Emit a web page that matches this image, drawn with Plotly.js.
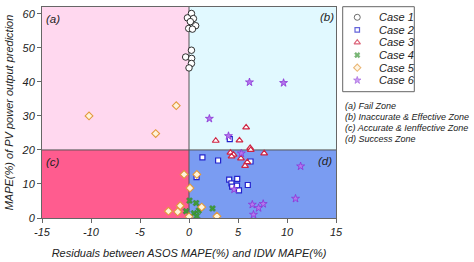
<!DOCTYPE html>
<html>
<head>
<meta charset="utf-8">
<script src="https://cdn.plot.ly/plotly-3.0.1.min.js"></script>
<style>
  html, body { margin: 0; padding: 0; background: #fff; }
  #chart { width: 474px; height: 262px; }
</style>
</head>
<body>
<div id="chart"></div>
<script>
// Residual (ASOS MAPE - IDW MAPE) vs. MAPE of PV power output prediction, per case
const caseNames = ['Case 1', 'Case 2', 'Case 3', 'Case 4', 'Case 5', 'Case 6'];

const case1X = [0.25, -0.16, 0.45, 0.14, 0.68, -0.03, 0.35, 0.25, -0.34, 0.27, 0.25, 0.0];
const case1Y = [60.1, 58.8, 58.6, 57.7, 56.5, 55.7, 55.5, 49.3, 47.3, 46.9, 45.4, 44.1];

const case2X = [1.37, 2.97, 4.16, 6.28, 0.77, 4.1, 4.92, 4.33, 4.4, 4.9, 6.0, 5.1];
const case2Y = [17.8, 16.9, 23.2, 16.6, 12.0, 11.3, 11.5, 10.2, 9.2, 9.5, 9.7, 8.1];

const case3X = [5.83, 2.73, 5.15, 6.24, 6.3, 4.23, 4.55, 4.35, 5.3, 5.95, 5.72, 7.67];
const case3Y = [26.6, 22.7, 22.8, 20.6, 20.0, 19.2, 18.6, 18.1, 17.5, 16.4, 15.3, 19.0];

const case4X = [0.05, 0.72, -0.3, 0.5, 1.0, 2.4, 0.0, 0.8, 1.2];
const case4Y = [5.1, 4.4, 2.0, 1.4, 2.2, 2.8, 0.2, 0.6, 3.0];

const case5X = [-10.2, -1.3, -3.4, -0.5, 0.8, 0.1, -0.9, -2.1, -1.15, 1.3, 0.0, 2.85];
const case5Y = [30.0, 33.0, 24.8, 12.8, 12.8, 8.8, 3.6, 2.0, 1.8, 3.2, 0.4, 0.5];

const case6X = [6.17, 9.65, 2.08, 4.03, 5.34, 11.39, 10.87, 6.46, 7.57, 7.1, 6.58, 4.6];
const case6Y = [39.9, 39.7, 29.2, 24.1, 19.0, 15.2, 5.7, 3.95, 4.15, 2.95, 1.0, 8.4];

const xTicks = [-15, -10, -5, 0, 5, 10, 15];
const yTicks = [0, 10, 20, 30, 40, 50, 60];

// Zone boundaries and labels
const splitX = 0;
const splitY = 20;
const zoneTags = ['(a)', '(b)', '(c)', '(d)'];
const zoneNotes = ['(a) Fail Zone', '(b) Inaccurate & Effective Zone',
                   '(c) Accurate & Ienffective Zone', '(d) Success Zone'];

const seriesX = [case1X, case2X, case3X, case4X, case5X, case6X];
const seriesY = [case1Y, case2Y, case3Y, case4Y, case5Y, case6Y];

// Marker styles per case
const styles = [
  { symbol: 'circle',      size: 6.5, color: '#ffffff', line: '#1a1a1a', lw: 0.9 },
  { symbol: 'square',      size: 5,   color: '#ffffff', line: '#2323cc', lw: 1.2 },
  { symbol: 'triangle-up', size: 6,   color: '#ffffff', line: '#cf2342', lw: 1.2 },
  { symbol: 'x',           size: 5.5, color: '#3f9b3a', line: '#2d7a2a', lw: 0.4 },
  { symbol: 'diamond',     size: 6,   color: '#fff3da', line: '#e2993d', lw: 1.1 },
  { symbol: 'star',        size: 6,   color: '#b676ee', line: '#8a35d6', lw: 0.8 }
];

const FONT = 'Liberation Sans, Arial, sans-serif';
const W = 474, H = 262;
const M = { l: 42, r: 4, t: 7, b: 44 };
const plotW = W - M.l - M.r, plotH = H - M.t - M.b;
const mainRight = 294;                       // main panel width in px
const px2paperX = px => (px - M.l) / plotW;
const px2paperY = py => (H - M.b - py) / plotH;

const traces = seriesX.map((xs, i) => ({
  type: 'scatter', mode: 'markers', name: caseNames[i],
  x: xs, y: seriesY[i], xaxis: 'x', yaxis: 'y',
  marker: { symbol: styles[i].symbol, size: styles[i].size, color: styles[i].color,
            line: { color: styles[i].line, width: styles[i].lw } },
  showlegend: false, hoverinfo: 'x+y'
}));

// Legend glyphs on a small hidden subplot, one row per case
const rows = caseNames.map((_, i) => i);
traces.push({
  type: 'scatter', mode: 'markers', xaxis: 'x2', yaxis: 'y2',
  x: rows.map(() => 0.122), y: rows,
  marker: { symbol: styles.map(s => s.symbol), size: styles.map(s => s.size - 0.5),
            color: styles.map(s => s.color),
            line: { color: styles.map(s => s.line), width: styles.map(s => s.lw) } },
  showlegend: false, hoverinfo: 'skip'
});

const quad = (x0, x1, y0, y1, fill) => ({
  type: 'rect', xref: 'x', yref: 'y', x0, x1, y0, y1,
  fillcolor: fill, line: { width: 0 }, layer: 'below'
});

const shapes = [
  quad(-15, splitX, splitY, 62, '#ffd8ef'),
  quad(splitX, 15, splitY, 62, '#e1f9ff'),
  quad(-15, splitX, 0, splitY, '#ff5c8f'),
  quad(splitX, 15, 0, splitY, '#7a9cf2'),
  { type: 'line', xref: 'x', yref: 'y', x0: splitX, x1: splitX, y0: 0, y1: 62,
    line: { color: '#555', width: 1 }, layer: 'below' },
  { type: 'line', xref: 'x', yref: 'y', x0: -15, x1: 15, y0: splitY, y1: splitY,
    line: { color: '#555', width: 1 }, layer: 'below' },
  // legend frame
  { type: 'rect', xref: 'paper', yref: 'paper',
    x0: px2paperX(342.7), x1: px2paperX(414.3), y0: px2paperY(91.7), y1: px2paperY(6.7),
    line: { color: '#666', width: 1 }, fillcolor: 'rgba(0,0,0,0)' }
];

const italic = (size, color) => ({ family: FONT, size, color: color || '#222', style: 'italic' });

const annotations = [];
// zone tags inside the panel
const tagPos = [[-13.9, 58.5], [14.05, 59.1], [-13.9, 16.5], [13.9, 16.7]];
zoneTags.forEach((t, i) => annotations.push({
  xref: 'x', yref: 'y', x: tagPos[i][0], y: tagPos[i][1], text: t, showarrow: false,
  xanchor: 'center', yanchor: 'middle', font: italic(11.5)
}));
// legend labels
caseNames.forEach((n, i) => annotations.push({
  xref: 'paper', yref: 'y2', x: px2paperX(376.5), y: i, text: n, showarrow: false,
  xanchor: 'left', yanchor: 'middle', font: italic(11)
}));
// zone descriptions under the legend
zoneNotes.forEach((n, i) => annotations.push({
  xref: 'paper', yref: 'paper', x: px2paperX(342.5), y: px2paperY(106 + 11 * i), text: n,
  showarrow: false, xanchor: 'left', yanchor: 'middle', font: italic(9)
}));

const layout = {
  width: W, height: H,
  margin: M,
  paper_bgcolor: '#ffffff', plot_bgcolor: '#ffffff',
  showlegend: false,
  xaxis: {
    domain: [0, mainRight / plotW], range: [-15, 15], anchor: 'y',
    tickvals: xTicks, ticktext: xTicks.map(String),
    ticks: 'outside', ticklen: 4, tickcolor: '#666',
    showline: true, linecolor: '#666', linewidth: 1, mirror: true,
    showgrid: false, zeroline: false, tickfont: italic(11),
    title: { text: 'Residuals between ASOS MAPE(%) and IDW MAPE(%)', font: italic(11), standoff: 12 }
  },
  yaxis: {
    domain: [0, 1], range: [0, 62], anchor: 'x',
    tickvals: yTicks, ticktext: yTicks.map(String),
    ticks: 'outside', ticklen: 4, tickcolor: '#666',
    showline: true, linecolor: '#666', linewidth: 1, mirror: true,
    showgrid: false, zeroline: false, tickfont: italic(11),
    title: { text: 'MAPE(%) of PV power output prediction', font: italic(11), standoff: 5 }
  },
  xaxis2: { domain: [0.70, 1], range: [0, 1], anchor: 'y2', visible: false, fixedrange: true },
  yaxis2: { domain: [0, 1], range: [15.93, -0.817], anchor: 'x2', visible: false, fixedrange: true },
  shapes, annotations
};

Plotly.newPlot('chart', traces, layout, { displayModeBar: false, staticPlot: true });
</script>
</body>
</html>
